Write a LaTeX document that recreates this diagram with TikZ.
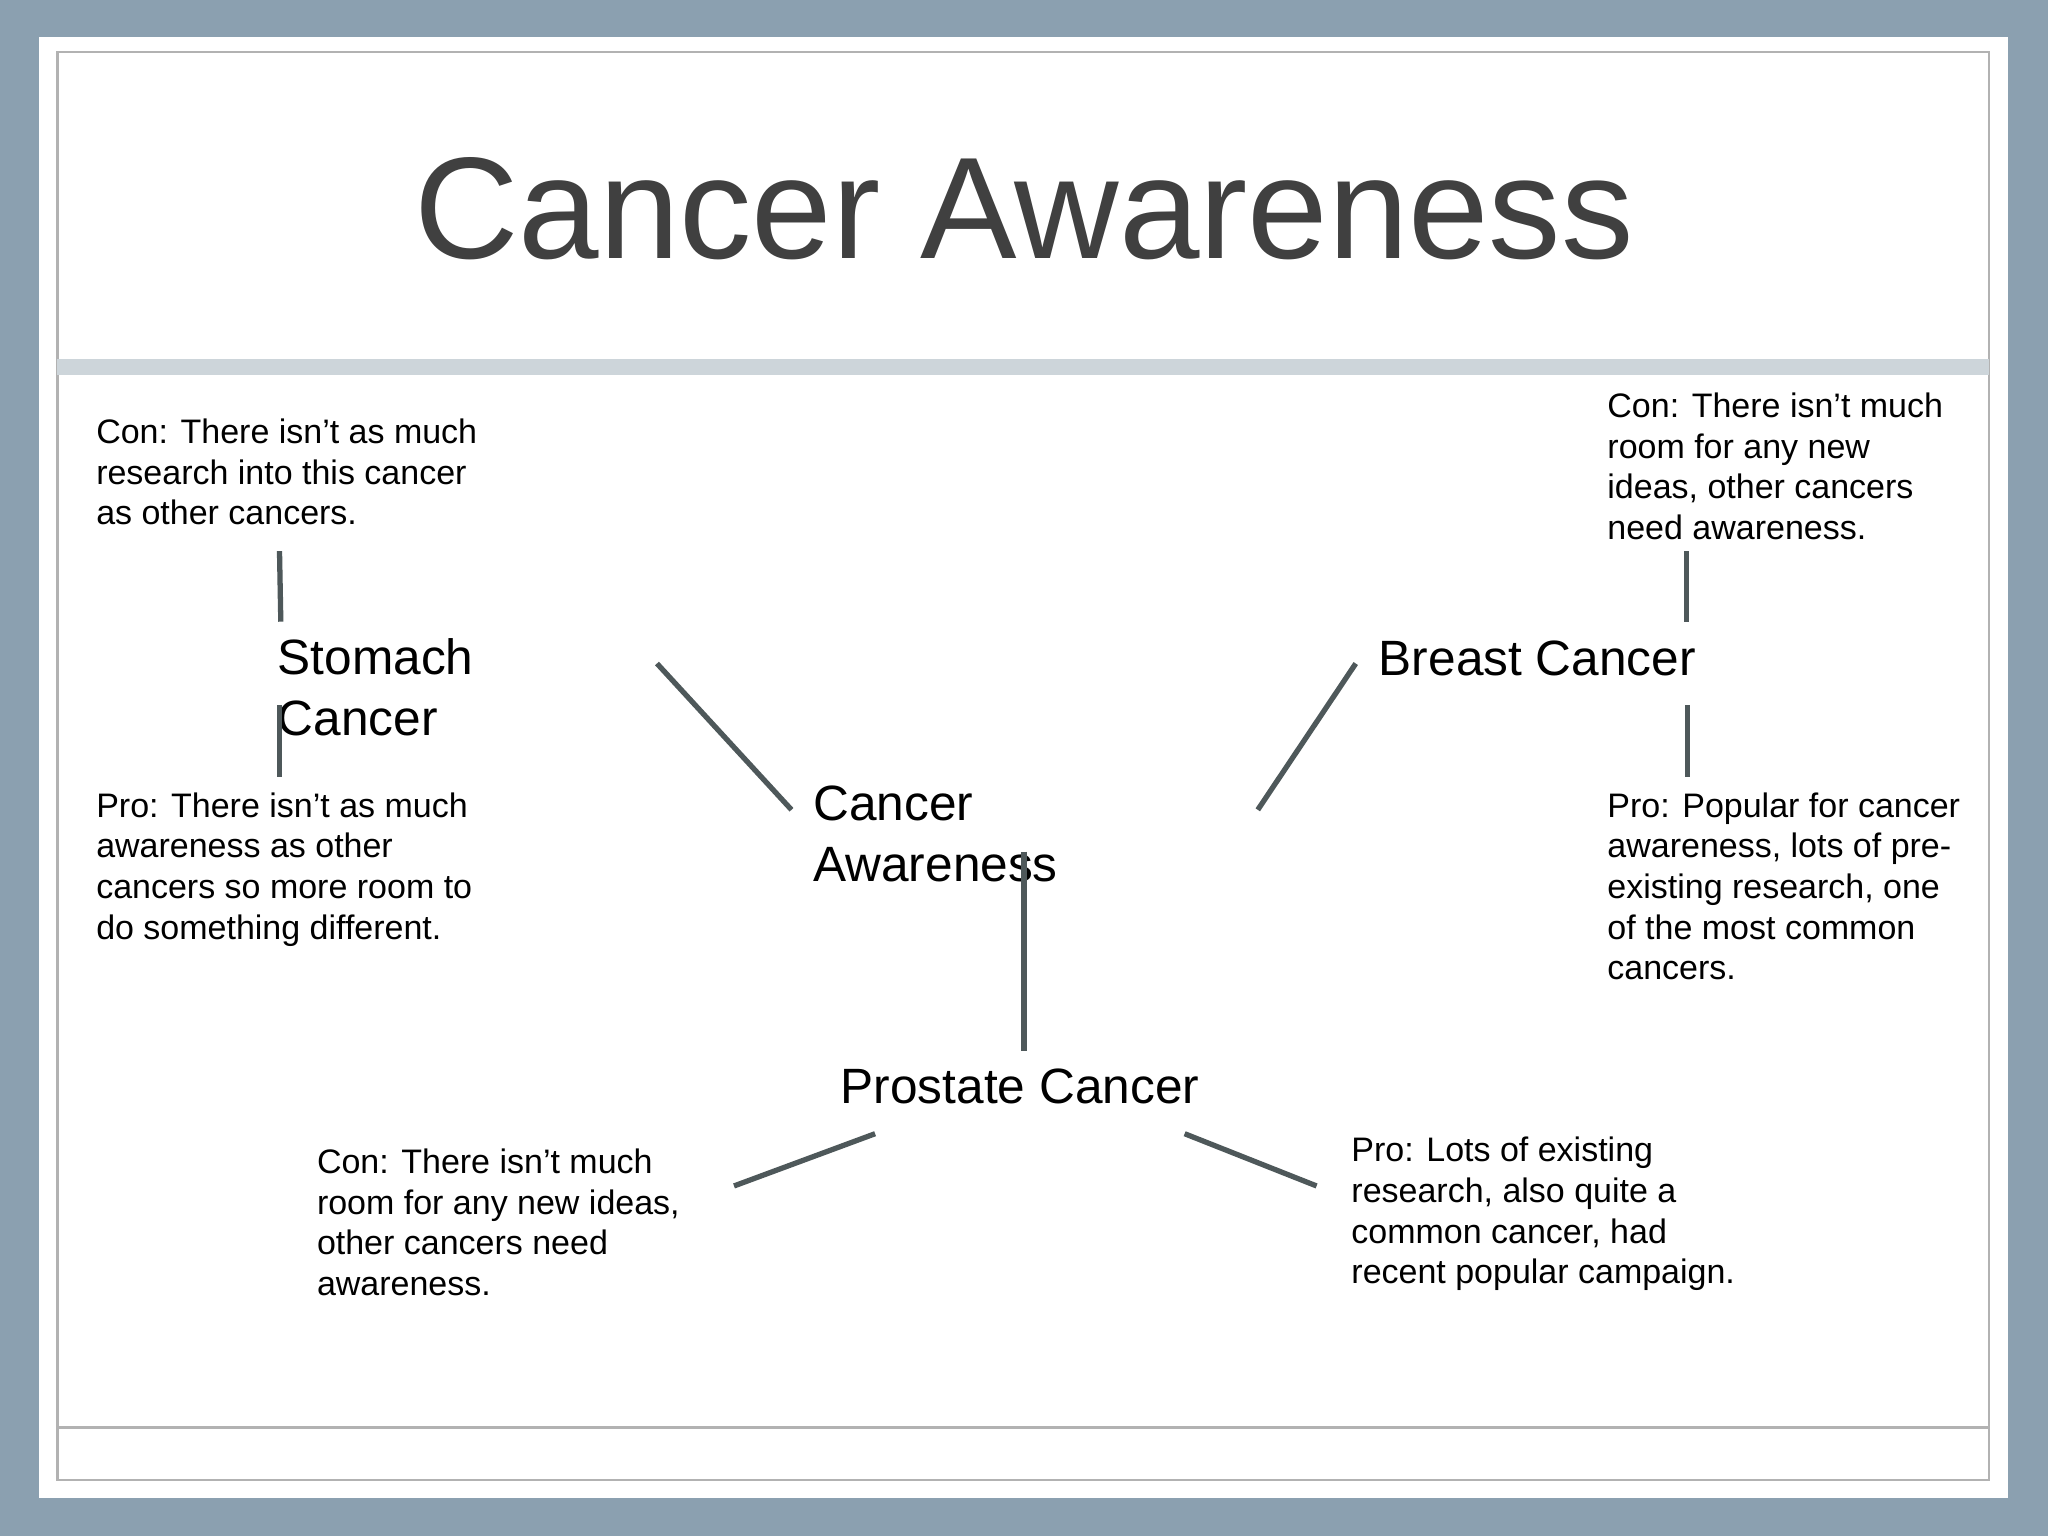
\documentclass[tikz,border=0pt]{standalone}
\usepackage{fontspec}
\setmainfont{Liberation Sans}
\begin{document}
\begin{tikzpicture}[x=0.01cm,y=-0.01cm,
  body/.style={anchor=north west,inner sep=0pt,align=left,font=\fontsize{7.4}{8.85}\selectfont,text=black},
  lab/.style={anchor=north west,inner sep=0pt,align=left,font=\fontsize{10.8}{13.3}\selectfont,text=black},
  conn/.style={draw=linec,line width=1.15pt}]
\definecolor{bgc}{RGB}{139,160,176}
\definecolor{linec}{RGB}{78,88,90}
\definecolor{bandc}{RGB}{205,213,218}
\definecolor{titc}{RGB}{64,64,64}
\fill[bgc] (0,0) rectangle (1568,1176);
\useasboundingbox (0,0) rectangle (1568,1176);
\fill[white] (30,28) rectangle (1537,1147);
\draw[gray!60,line width=0.5pt] (44,40) rectangle (1523,1133);
\fill[bandc] (44,275) rectangle (1523,287);
\draw[gray!60,line width=0.5pt] (44,1093) -- (1523,1093);
\node[inner sep=0pt,text=titc,font=\fontsize{31.5}{36}\selectfont] (title) at (784,160) {Cancer Awareness};

\node[body] (sc) at (73,320) {Con: There isn’t as much\\research into this cancer\\as other cancers.};
\node[body] (sp) at (73,606) {Pro: There isn’t as much\\awareness as other\\cancers so more room to\\do something different.};
\node[body] (bc) at (1230,300) {Con: There isn’t much\\room for any new\\ideas, other cancers\\need awareness.};
\node[body] (bp) at (1230,606) {Pro: Popular for cancer\\awareness, lots of pre-\\existing research, one\\of the most common\\cancers.};
\node[body] (pc) at (242,879) {Con: There isn’t much\\room for any new ideas,\\other cancers need\\awareness.};
\node[body] (pp) at (1034,870) {Pro: Lots of existing\\research, also quite a\\common cancer, had\\recent popular campaign.};

\node[lab] (stom) at (212,488) {Stomach\\Cancer};
\node[lab] (ca) at (622,601) {Cancer\\Awareness};
\node[lab] (br) at (1055,490) {Breast Cancer};
\node[lab] (pr) at (643,818) {Prostate Cancer};

\coordinate (a1) at (214,422); \coordinate (a2) at (215,476);
\coordinate (b1) at (214,540); \coordinate (b2) at (214,595);
\coordinate (c1) at (503,508); \coordinate (c2) at (606,620);
\coordinate (d1) at (1038,508); \coordinate (d2) at (963,620);
\coordinate (e1) at (1291,422); \coordinate (e2) at (1291,476);
\coordinate (f1) at (1292,540); \coordinate (f2) at (1292,595);
\coordinate (g1) at (784,652); \coordinate (g2) at (784,805);
\coordinate (h1) at (670,868); \coordinate (h2) at (562,908);
\coordinate (i1) at (907,868); \coordinate (i2) at (1008,908);
\foreach \p in {a,b,c,d,e,f,g,h,i} \draw[conn] (\p1) -- (\p2);
\end{tikzpicture}
\end{document}
